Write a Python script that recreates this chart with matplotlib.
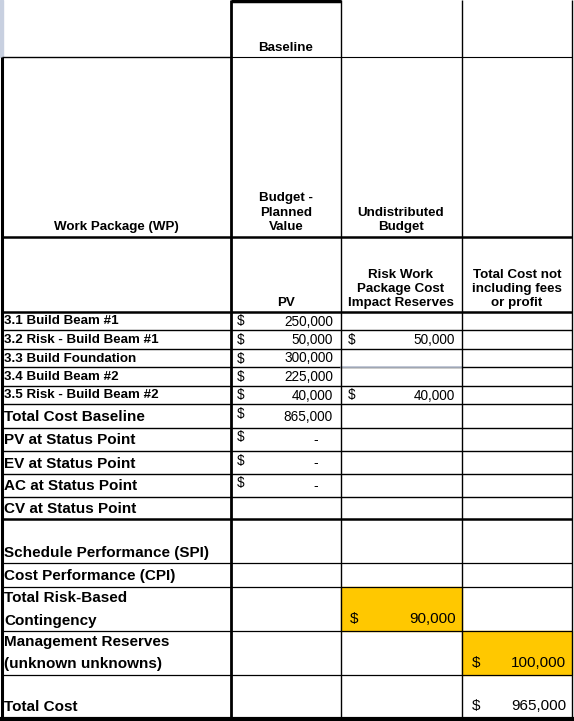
import matplotlib
matplotlib.use('Agg')
from matplotlib import pyplot as plt
from matplotlib.patches import Rectangle

plt.rcParams['font.family'] = ['Liberation Sans', 'DejaVu Sans']

wp_labels = ['3.1 Build Beam #1', '3.2 Risk - Build Beam #1', '3.3 Build Foundation',
             '3.4 Build Beam #2', '3.5 Risk - Build Beam #2']
pv_values = [250000, 50000, 300000, 225000, 40000]
reserve_values = [None, 50000, None, None, 40000]
status_labels = ['Total Cost Baseline', 'PV at Status Point', 'EV at Status Point',
                 'AC at Status Point', 'CV at Status Point']
status_pv = [sum(pv_values), 0, 0, 0, None]
contingency = sum(v for v in reserve_values if v)
mgmt_reserve = 100000
total_cost = sum(pv_values) + mgmt_reserve

# grid in pixel coordinates
cols = [2, 231, 341, 462, 572]
wp_rows = [312, 330, 349, 367, 386, 404]
status_rows = [404, 428, 451, 474, 497, 519]

fig = plt.figure(figsize=(5.74, 7.21), dpi=100)
ax = fig.add_axes([0, 0, 1, 1])
ax.set_xlim(0, 574)
ax.set_ylim(721, 0)
ax.axis('off')

gold = '#FFC800'
ax.add_patch(Rectangle((341, 587), 121, 44, color=gold, zorder=0))
ax.add_patch(Rectangle((462, 631), 110, 44, color=gold, zorder=0))
ax.add_patch(Rectangle((0, 0), 3, 57, color='#c8d0e0', zorder=0))


def hline(y, x0=2, x1=572, lw=1.0):
    ax.plot([x0, x1], [y, y], color='black', lw=lw, solid_capstyle='butt')


def vline(x, y0, y1, lw=1.0):
    ax.plot([x, x], [y0, y1], color='black', lw=lw, solid_capstyle='butt')


# horizontal lines
hline(1, 231, 341, lw=2.5)
hline(57, 2, 231, lw=1.0)
hline(57, 231, 572, lw=0.8)
hline(237, lw=1.8)
hline(312, lw=1.8)
for y in wp_rows[1:]:
    hline(y, lw=1.0)
ax.plot([341, 462], [367, 367], color='#c0c8d8', lw=1.2)
for y in status_rows[1:-1]:
    hline(y, lw=1.0)
hline(519, lw=1.8)
for y in [563, 587, 631, 675]:
    hline(y, lw=0.9)
hline(719, 0, 574, lw=3)

# vertical lines
vline(2, 57, 721, lw=2.2)
vline(231, 0, 721, lw=2.0)
vline(341, 0, 721, lw=1.0)
vline(462, 0, 721, lw=1.0)
vline(572, 0, 721, lw=1.0)

bold = dict(fontweight='bold', fontsize=9.6)
ax.text(286, 54, 'Baseline', ha='center', va='bottom', **bold)
ax.text(116, 233, 'Work Package (WP)', ha='center', va='bottom', **bold)
ax.text(286, 233, 'Budget -\nPlanned\nValue', ha='center', va='bottom', linespacing=1.25, **bold)
ax.text(401, 233, 'Undistributed\nBudget', ha='center', va='bottom', linespacing=1.25, **bold)
ax.text(286, 309, 'PV', ha='center', va='bottom', **bold)
ax.text(401, 309, 'Risk Work\nPackage Cost\nImpact Reserves', ha='center', va='bottom', linespacing=1.25, **bold)
ax.text(517, 309, 'Total Cost not\nincluding fees\nor profit', ha='center', va='bottom', linespacing=1.25, **bold)


def money(v):
    return '-' if v == 0 else f'{v:,}'


num = dict(fontsize=9.8, va='center')
for i, lab in enumerate(wp_labels):
    yc = (wp_rows[i] + wp_rows[i + 1]) / 2 + 0.5
    ax.text(4, yc, lab, fontweight='bold', fontsize=9.6, va='center')
    ax.text(237, yc, '$', **num)
    ax.text(333, yc, money(pv_values[i]), ha='right', **num)
    if reserve_values[i]:
        ax.text(348, yc, '$', **num)
        ax.text(455, yc, money(reserve_values[i]), ha='right', **num)

for i, lab in enumerate(status_labels):
    yc = (status_rows[i] + status_rows[i + 1]) / 2 + 1
    ax.text(4, yc, lab, fontweight='bold', fontsize=11, va='center')
    if status_pv[i] is not None:
        ax.text(237, yc - 3, '$', **num)
        ax.text(333 if status_pv[i] else 318, yc, money(status_pv[i]), ha='right', **num)

big = dict(fontsize=11, va='center')
ax.text(4, 553, 'Schedule Performance (SPI)', fontweight='bold', **big)
ax.text(4, 576, 'Cost Performance (CPI)', fontweight='bold', **big)
ax.text(4, 598, 'Total Risk-Based', fontweight='bold', **big)
ax.text(4, 621, 'Contingency', fontweight='bold', **big)
ax.text(4, 642, 'Management Reserves', fontweight='bold', **big)
ax.text(4, 664, '(unknown unknowns)', fontweight='bold', **big)
ax.text(4, 707, 'Total Cost', fontweight='bold', **big)

ax.text(350, 619, '$', **big)
ax.text(456, 619, money(contingency), ha='right', **big)
ax.text(472, 663, '$', **big)
ax.text(566, 663, money(mgmt_reserve), ha='right', **big)
ax.text(472, 706, '$', **big)
ax.text(566, 706, money(total_cost), ha='right', **big)

fig.savefig('out.png', dpi=100)
